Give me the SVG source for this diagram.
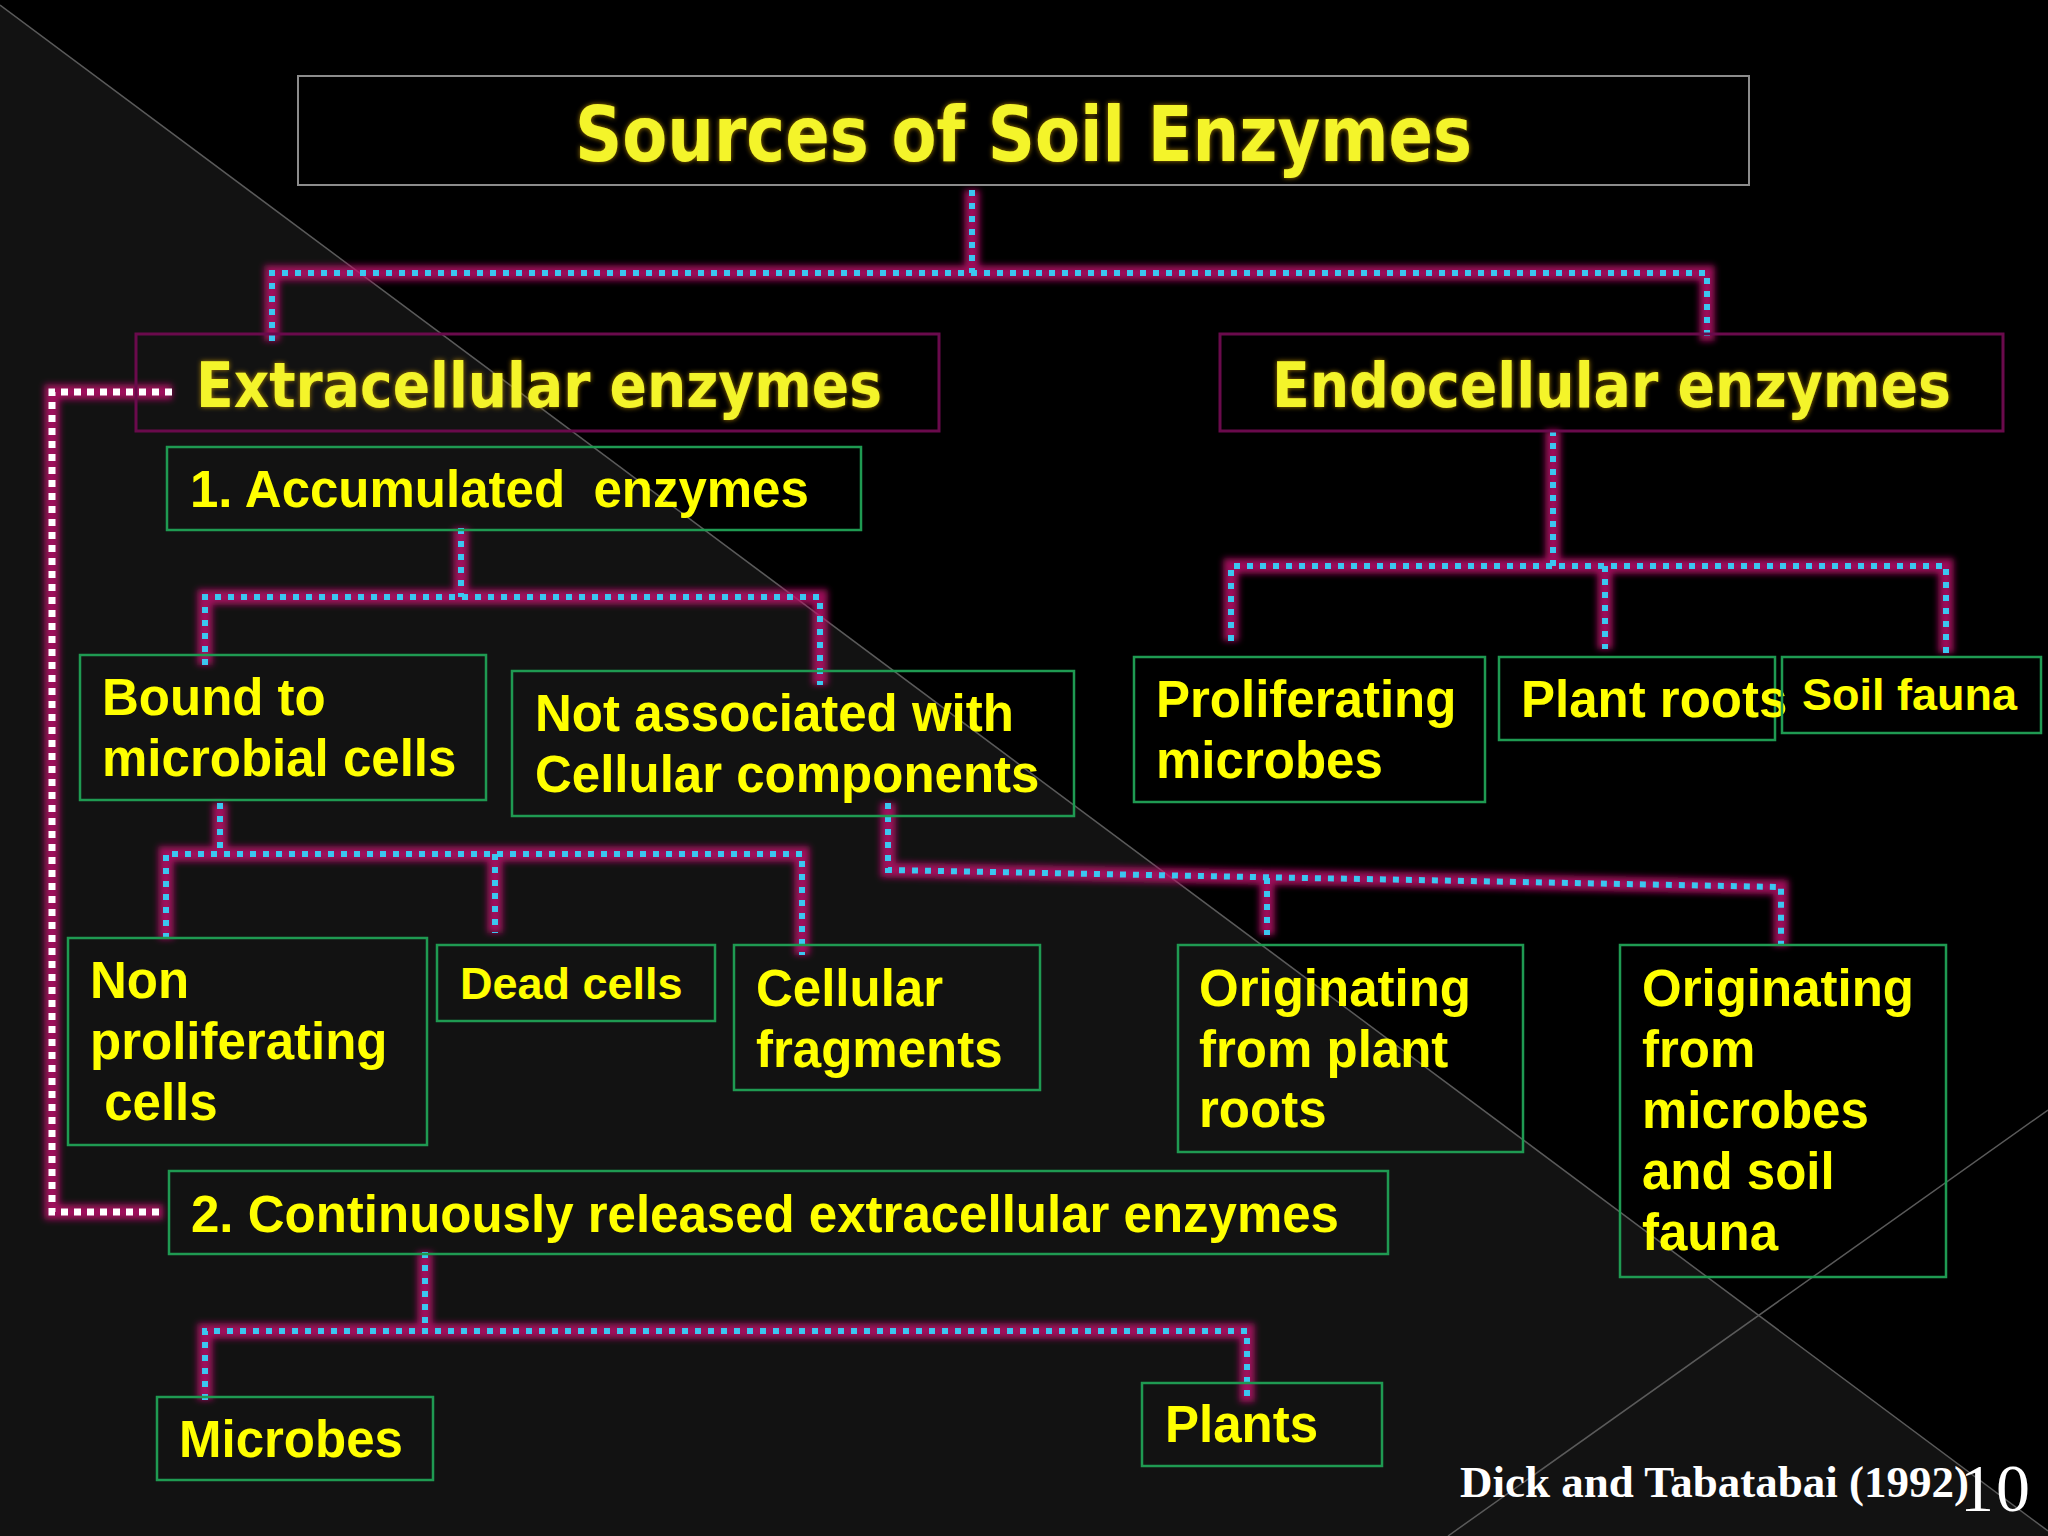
<svg xmlns="http://www.w3.org/2000/svg" width="2048" height="1536" viewBox="0 0 2048 1536">
<defs>
<style>
.box-g{fill:none;stroke:#1f9a52;stroke-width:2.5}
.box-m{fill:none;stroke:#6a0a4c;stroke-width:3}
.box-t{fill:none;stroke:#8c8c8c;stroke-width:2}
.t{font-family:"Liberation Sans",Arial,sans-serif;font-weight:bold;font-size:51px;fill:#ffff00}
.ts{font-size:45px}
.h{font-family:"DejaVu Sans Condensed","DejaVu Sans",sans-serif;font-stretch:condensed;font-weight:bold;fill:#f4f42a}
.glow{fill:none;stroke:#c2146e;stroke-width:15;stroke-opacity:0.8;stroke-linejoin:miter}
.dots{fill:none;stroke:#3cc6f0;stroke-width:6;stroke-dasharray:6 7}
.wdots{fill:none;stroke:#ffffff;stroke-width:7;stroke-dasharray:7 6}
.cite{font-family:"Liberation Serif","Times New Roman",serif;fill:#ffffff}
</style>
<filter id="cglow" filterUnits="userSpaceOnUse" x="0" y="0" width="2048" height="1536">
<feGaussianBlur stdDeviation="3"/>
</filter>
<filter id="tglow" filterUnits="userSpaceOnUse" x="0" y="0" width="2048" height="1536">
<feGaussianBlur in="SourceAlpha" stdDeviation="2.5" result="b"/>
<feFlood flood-color="#b88a00" flood-opacity="0.9"/>
<feComposite in2="b" operator="in" result="g"/>
<feMerge><feMergeNode in="g"/><feMergeNode in="SourceGraphic"/></feMerge>
</filter>
</defs>

<!-- background -->
<rect x="0" y="0" width="2048" height="1536" fill="#000000"/>
<polygon points="0,5 2048,1531 2048,1536 0,1536" fill="#121212"/>
<line x1="0" y1="5" x2="2048" y2="1531" stroke="#5a5a5a" stroke-width="1.5"/>
<line x1="2048" y1="1110" x2="1448" y2="1536" stroke="#5a5a5a" stroke-width="1.5"/>

<!-- connectors -->
<g id="connectors">
<g filter="url(#cglow)">
<path class="glow" d="M972,190 V273 M272,341 V273 H1707 V341"/>
<path class="glow" d="M1553,430 V566 M1231,641 V566 H1946 V653 M1605,566 V649"/>
<path class="glow" d="M461,528 V597 M205,665 V597 H820 V685"/>
<path class="glow" d="M220,803 V854 M166,939 V854 H802 V955 M495,854 V933"/>
<path class="glow" d="M888,803 V870 L1781,887 V946 M1267,878 V935"/>
<path class="glow" d="M425,1252 V1331 M205,1400 V1331 H1247 V1402"/>
<path class="glow" d="M172,392 H52 V1212 H163"/>
</g>
<path class="dots" d="M972,190 V273 M272,341 V273 H1707 V341"/>
<path class="dots" d="M1553,430 V566 M1231,641 V566 H1946 V653 M1605,566 V649"/>
<path class="dots" d="M461,528 V597 M205,665 V597 H820 V685"/>
<path class="dots" d="M220,803 V854 M166,939 V854 H802 V955 M495,854 V933"/>
<path class="dots" d="M888,803 V870 L1781,887 V946 M1267,878 V935"/>
<path class="dots" d="M425,1252 V1331 M205,1400 V1331 H1247 V1402"/>
<path class="wdots" d="M172,392 H52 V1212 H163"/>
</g>

<!-- title -->
<g id="title">
<rect class="box-t" x="298" y="76" width="1451" height="109"/>
<text class="h" x="575" y="161" font-size="77" textLength="897" lengthAdjust="spacingAndGlyphs" filter="url(#tglow)">Sources of Soil Enzymes</text>
</g>

<g id="extracellular">
<rect class="box-m" x="136" y="334" width="803" height="97"/>
<text class="h" x="196" y="407" font-size="63" textLength="686" lengthAdjust="spacingAndGlyphs" filter="url(#tglow)">Extracellular enzymes</text>
</g>

<g id="endocellular">
<rect class="box-m" x="1220" y="334" width="783" height="97"/>
<text class="h" x="1272" y="407" font-size="63" textLength="679" lengthAdjust="spacingAndGlyphs" filter="url(#tglow)">Endocellular enzymes</text>
</g>

<g id="accumulated">
<rect class="box-g" x="167" y="447" width="694" height="83"/>
<text class="t" x="190" y="507" xml:space="preserve">1. Accumulated  enzymes</text>
</g>

<g id="bound">
<rect class="box-g" x="80" y="655" width="406" height="145"/>
<text class="t" x="102" y="715">Bound to</text>
<text class="t" x="102" y="776">microbial cells</text>
</g>

<g id="notassoc">
<rect class="box-g" x="512" y="671" width="562" height="145"/>
<text class="t" x="535" y="731">Not associated with</text>
<text class="t" x="535" y="792">Cellular components</text>
</g>

<g id="nonprolif">
<rect class="box-g" x="68" y="938" width="359" height="207"/>
<text class="t" x="90" y="998">Non</text>
<text class="t" x="90" y="1059">proliferating</text>
<text class="t" x="90" y="1120" xml:space="preserve"> cells</text>
</g>

<g id="dead">
<rect class="box-g" x="437" y="945" width="278" height="76"/>
<text class="t ts" x="460" y="999">Dead cells</text>
</g>

<g id="fragments">
<rect class="box-g" x="734" y="945" width="306" height="145"/>
<text class="t" x="756" y="1006">Cellular</text>
<text class="t" x="756" y="1067">fragments</text>
</g>

<g id="prolif">
<rect class="box-g" x="1134" y="657" width="351" height="145"/>
<text class="t" x="1156" y="717">Proliferating</text>
<text class="t" x="1156" y="778">microbes</text>
</g>

<g id="plantroots">
<rect class="box-g" x="1499" y="657" width="276" height="83"/>
<text class="t" x="1521" y="717">Plant roots</text>
</g>

<g id="soilfauna">
<rect class="box-g" x="1782" y="657" width="259" height="76"/>
<text class="t ts" x="1802" y="710">Soil fauna</text>
</g>

<g id="origplant">
<rect class="box-g" x="1178" y="945" width="345" height="207"/>
<text class="t" x="1199" y="1006">Originating</text>
<text class="t" x="1199" y="1067">from plant</text>
<text class="t" x="1199" y="1127">roots</text>
</g>

<g id="origmicrobes">
<rect class="box-g" x="1620" y="945" width="326" height="332"/>
<text class="t" x="1642" y="1006">Originating</text>
<text class="t" x="1642" y="1067">from</text>
<text class="t" x="1642" y="1128">microbes</text>
<text class="t" x="1642" y="1189">and soil</text>
<text class="t" x="1642" y="1250">fauna</text>
</g>

<g id="continuous">
<rect class="box-g" x="169" y="1171" width="1219" height="83"/>
<text class="t" x="191" y="1232">2. Continuously released extracellular enzymes</text>
</g>

<g id="microbes">
<rect class="box-g" x="157" y="1397" width="276" height="83"/>
<text class="t" x="179" y="1457">Microbes</text>
</g>

<g id="plants">
<rect class="box-g" x="1142" y="1383" width="240" height="83"/>
<text class="t" x="1165" y="1442">Plants</text>
</g>

<g id="citation">
<text class="cite" x="1460" y="1497" font-size="45" font-weight="bold" textLength="509" lengthAdjust="spacingAndGlyphs">Dick and Tabatabai (1992)</text>
<text class="cite" x="1960" y="1511" font-size="68" letter-spacing="2" fill="#e8e8e8">10</text>
</g>
</svg>
